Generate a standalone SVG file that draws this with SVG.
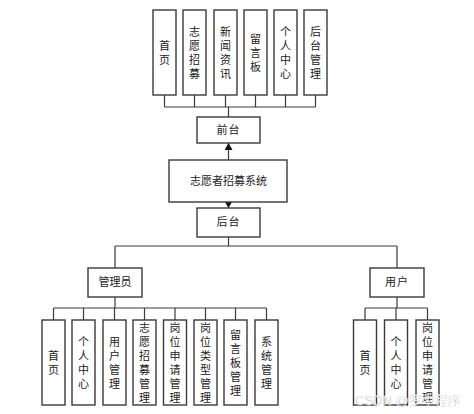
<svg xmlns="http://www.w3.org/2000/svg" width="474" height="414" viewBox="0 0 474 414">
<defs>
<style>
.box{fill:#fff;stroke:#3a3a3a;stroke-width:1.4}
.ln{fill:none;stroke:#3a3a3a;stroke-width:1.2}
.t{font-family:"Noto Sans CJK SC","Liberation Sans",sans-serif;font-size:11px;fill:#222;text-anchor:middle}
.v{writing-mode:vertical-rl;letter-spacing:3px}
.h{letter-spacing:1px}
.wm{font-family:"Liberation Sans","Noto Sans CJK SC",sans-serif;font-size:13px;fill:#c8c8c8;stroke:#fff;stroke-width:0.3}
</style>
<marker id="arr" markerWidth="8" markerHeight="8" refX="7" refY="4" orient="auto" markerUnits="userSpaceOnUse">
<path d="M0,0 L7,4 L0,8 Z" fill="#111"/>
</marker>
</defs>
<rect width="474" height="414" fill="#fff"/>
<g id="connectors">
<path class="ln" d="M164.5,95V107M194.5,95V107M225.5,95V107M255.5,95V107M285.5,95V107M315.5,95V107M164.5,107H315.5M228.5,107V117"/>
<path class="ln" d="M228.5,160V143" marker-end="url(#arr)"/>
<path class="ln" d="M228.5,202V208" marker-end="url(#arr)"/>
<path class="ln" d="M228.5,237V246M115,246H397M115,246V268M397,246V268"/>
<path class="ln" d="M115,297V308M53.5,308H266.5M53.5,308V320M83.5,308V320M114.5,308V320M144.5,308V320M175,308V320M205.5,308V320M235.5,308V320M266.5,308V320"/>
<path class="ln" d="M397,297V308M365,308H427.5M365,308V320M396,308V320M427.5,308V320"/>
</g>
<g id="n-top-1"><rect class="box" x="153" y="10" width="23" height="85"/><text class="t v" x="164.5" y="54">首页</text></g>
<g id="n-top-2"><rect class="box" x="183" y="10" width="23" height="85"/><text class="t v" x="194.5" y="54">志愿招募</text></g>
<g id="n-top-3"><rect class="box" x="214" y="10" width="23" height="85"/><text class="t v" x="225.5" y="54">新闻资讯</text></g>
<g id="n-top-4"><rect class="box" x="244" y="10" width="23" height="85"/><text class="t v" x="255.5" y="54">留言板</text></g>
<g id="n-top-5"><rect class="box" x="274" y="10" width="23" height="85"/><text class="t v" x="285.5" y="54">个人中心</text></g>
<g id="n-top-6"><rect class="box" x="304" y="10" width="23" height="85"/><text class="t v" x="315.5" y="54">后台管理</text></g>
<g id="n-qiantai"><rect class="box" x="197" y="117" width="63" height="26"/><text class="t h" x="228.5" y="134">前台</text></g>
<g id="n-system"><rect class="box" x="169" y="160" width="118" height="42"/><text class="t" x="228.5" y="185">志愿者招募系统</text></g>
<g id="n-houtai"><rect class="box" x="197" y="208" width="63" height="29"/><text class="t h" x="228.5" y="226">后台</text></g>
<g id="n-admin"><rect class="box" x="88" y="268" width="54" height="29"/><text class="t" x="115" y="286">管理员</text></g>
<g id="n-user"><rect class="box" x="370" y="268" width="54" height="29"/><text class="t h" x="397" y="286">用户</text></g>
<g id="n-a1"><rect class="box" x="42" y="320" width="23" height="85"/><text class="t v" x="53.5" y="364">首页</text></g>
<g id="n-a2"><rect class="box" x="72" y="320" width="23" height="85"/><text class="t v" x="83.5" y="364">个人中心</text></g>
<g id="n-a3"><rect class="box" x="103" y="320" width="23" height="85"/><text class="t v" x="114.5" y="364">用户管理</text></g>
<g id="n-a4"><rect class="box" x="133" y="320" width="23" height="85"/><text class="t v" x="144.5" y="364">志愿招募管理</text></g>
<g id="n-a5"><rect class="box" x="163.5" y="320" width="23" height="85"/><text class="t v" x="175" y="364">岗位申请管理</text></g>
<g id="n-a6"><rect class="box" x="194" y="320" width="23" height="85"/><text class="t v" x="205.5" y="364">岗位类型管理</text></g>
<g id="n-a7"><rect class="box" x="224" y="320" width="23" height="85"/><text class="t v" x="235.5" y="364">留言板管理</text></g>
<g id="n-a8"><rect class="box" x="255" y="320" width="23" height="85"/><text class="t v" x="266.5" y="364">系统管理</text></g>
<g id="n-u1"><rect class="box" x="353.5" y="320" width="23" height="85"/><text class="t v" x="365" y="364">首页</text></g>
<g id="n-u2"><rect class="box" x="384.5" y="320" width="23" height="85"/><text class="t v" x="396" y="364">个人中心</text></g>
<g id="n-u3"><rect class="box" x="416" y="320" width="23" height="85"/><text class="t v" x="427.5" y="364">岗位申请管理</text></g>
<text class="wm" x="355" y="405">CSDN @罗中程序</text>
</svg>
